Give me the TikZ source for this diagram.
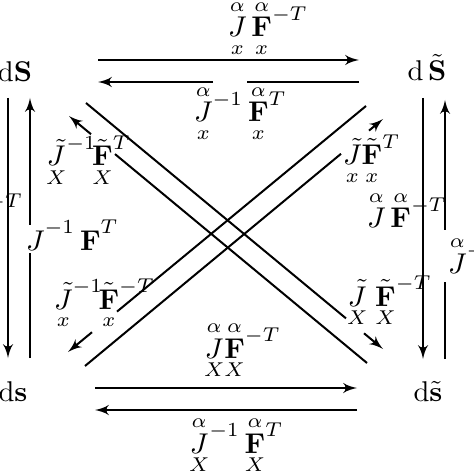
\documentclass[tikz,border=0pt]{standalone}
\usepackage{amsmath,amssymb}
\usepackage{tikz}
\usetikzlibrary{arrows}

\newcommand{\rsup}[1]{{}^{\raisebox{2pt}{$\scriptstyle #1$}}}

\begin{document}
\begin{tikzpicture}[x=0.35pt,y=-0.35pt,>=latex',line width=0.7pt,
    corner/.style={anchor=base,inner sep=0pt},
    lbl/.style={anchor=base west,inner sep=0pt},
    lble/.style={anchor=base east,inner sep=0pt}]
  \useasboundingbox (0,0) rectangle (474,474);
  % corners
  \node[corner] (dS)  at (15,82)   {$\mathrm{d}\mathbf{S}$};
  \node[corner] (dSt) at (427,81)  {$\mathrm{d}\,\tilde{\mathbf{S}}$};
  \node[corner] (ds)  at (13,401)  {$\mathrm{d}\mathbf{s}$};
  \node[corner] (dst) at (428,401) {$\mathrm{d}\tilde{\mathbf{s}}$};
  % labels
  \node[lbl]  (L_t1) at (227,37)  {${\underset{x}{\overset{\alpha}{J}}}\,{\underset{x}{\overset{\alpha}{\mathbf{F}}}}\rsup{-T}$};
  \node[lbl]  (L_t2) at (193,122) {${\underset{x}{\overset{\alpha}{J}}}\rsup{-1}\,{\underset{x}{\overset{\alpha}{\mathbf{F}}}}\rsup{T}$};
  \node[lbl]  (L_b1) at (203,358) {${\underset{X}{\overset{\alpha}{J}}}{\underset{X}{\overset{\alpha}{\mathbf{F}}}}\rsup{-T}$};
  \node[lbl]  (L_b2) at (188,453) {${\underset{X}{\overset{\alpha}{J}}}\rsup{-1}\,{\underset{X}{\overset{\alpha}{\mathbf{F}}}}\rsup{T}$};
  \node[lble] (L_l1) at (24,224)  {$J\,\mathbf{F}\rsup{-T}$};
  \node[lbl]  (L_l2) at (25,250)  {$J\rsup{-1}\,\mathbf{F}\rsup{T}$};
  \node[lbl]  (L_r1) at (366,228) {${\overset{\alpha}{J}}\,{\overset{\alpha}{\mathbf{F}}}\rsup{-T}$};
  \node[lbl]  (L_r2) at (447,273) {${\overset{\alpha}{J}}\rsup{-1}\,{\overset{\alpha}{\mathbf{F}}}\rsup{T}$};
  \node[lbl]  (L_d1) at (346,306) {${\underset{X}{\tilde{J}}}\;{\underset{X}{\tilde{\mathbf{F}}}}\rsup{-T}$};
  \node[lbl]  (L_d2) at (45,166)  {${\underset{X}{\tilde{J}}}\rsup{-1}\!{\underset{X}{\tilde{\mathbf{F}}}}\rsup{T}$};
  \node[lbl]  (L_d3) at (53,309)  {${\underset{x}{\tilde{J}}}\rsup{-1}\!{\underset{x}{\tilde{\mathbf{F}}}}\rsup{-T}$};
  \node[lbl]  (L_d4) at (342,165) {${\underset{x}{\tilde{J}}}{\underset{x}{\tilde{\mathbf{F}}}}\rsup{T}$};
  % horizontal arrows
  \coordinate (a_1) at (98,60);   \coordinate (a_2) at (359,60);
  \coordinate (b_1) at (359,82);  \coordinate (b_2) at (247,82);
  \coordinate (b_3) at (213,82);  \coordinate (b_4) at (98,82);
  \coordinate (c_1) at (95,388);  \coordinate (c_2) at (357,388);
  \coordinate (e_1) at (357,410); \coordinate (e_2) at (95,410);
  % vertical arrows
  \coordinate (f_1) at (8,98);    \coordinate (f_2) at (8,358);
  \coordinate (g_1) at (30,358);  \coordinate (g_2) at (30,253);
  \coordinate (g_3) at (30,225);  \coordinate (g_4) at (30,98);
  \coordinate (k_1) at (423,98);  \coordinate (k_2) at (423,359);
  \coordinate (m_1) at (445,359); \coordinate (m_2) at (445,282);
  \coordinate (m_3) at (445,230); \coordinate (m_4) at (445,100);
  % diagonal arrows
  \coordinate (p_1) at (86,103);  \coordinate (p_2) at (346,318.4);
  \coordinate (p_3) at (364,333.3); \coordinate (p_4) at (383,349);
  \coordinate (q_1) at (367,363); \coordinate (q_2) at (115,154.1);
  \coordinate (q_3) at (91,134.2); \coordinate (q_4) at (69,116);
  \coordinate (r_1) at (366,106); \coordinate (r_2) at (117,311.6);
  \coordinate (r_3) at (92,332.2); \coordinate (r_4) at (68,352);
  \coordinate (u_1) at (85,366);  \coordinate (u_2) at (341,153.8);
  \coordinate (u_3) at (369,130.6); \coordinate (u_4) at (383,119);
  \path
  (b_1) edge (b_2)
  (g_1) edge (g_2)
  (m_1) edge (m_2)
  (p_1) edge (p_2)
  (q_1) edge (q_2)
  (r_1) edge (r_2)
  (u_1) edge (u_2);
  \path[->]
  (a_1) edge (a_2)
  (b_3) edge (b_4)
  (c_1) edge (c_2)
  (e_1) edge (e_2)
  (f_1) edge (f_2)
  (g_3) edge (g_4)
  (k_1) edge (k_2)
  (m_3) edge (m_4)
  (p_3) edge (p_4)
  (q_3) edge (q_4)
  (r_3) edge (r_4)
  (u_3) edge (u_4);
\end{tikzpicture}
\end{document}
